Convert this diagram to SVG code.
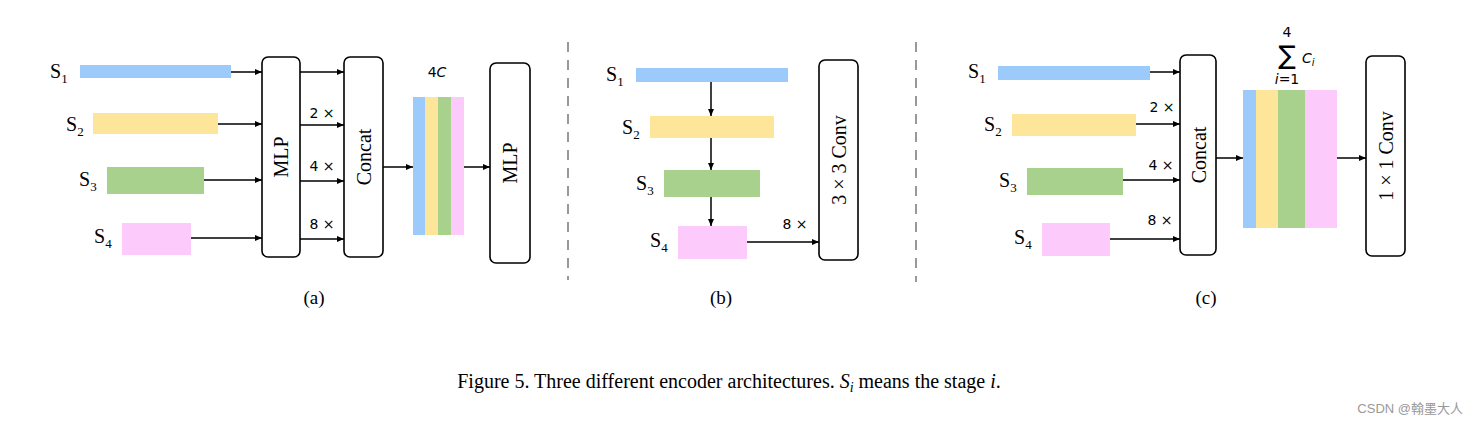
<svg xmlns="http://www.w3.org/2000/svg" width="1480" height="425" viewBox="0 0 1480 425">
<defs>
<marker id="ah" markerWidth="8" markerHeight="8" refX="7" refY="4" orient="auto" markerUnits="userSpaceOnUse"><path d="M0,1 L7,4 L0,7 z" fill="#000"/></marker>
</defs>
<style>
.s{font-family:"Liberation Serif",serif;font-size:20px;fill:#000}
.sub{font-size:13px}
.m{font-family:"DejaVu Sans","Liberation Sans",sans-serif;font-size:14px;fill:#000}
.box{fill:#fff;stroke:#000;stroke-width:1.6}
.c line{stroke:#000;stroke-width:1.5;marker-end:url(#ah)}
.b{fill:#9ccbfb}.y{fill:#fde699}.g{fill:#a9d18e}.p{fill:#fdcbfb}
.d{stroke:#777;stroke-width:1.5;stroke-dasharray:10,8}
.lab{font-family:"Liberation Serif",serif;font-size:19px;fill:#000;text-anchor:middle}
</style>
<rect width="1480" height="425" fill="#fff"/>
<!-- panel a -->
<g id="a-inputs">
<rect class="b" x="80" y="65" width="151" height="13"/>
<rect class="y" x="93" y="113" width="125" height="21"/>
<rect class="g" x="107" y="167" width="97" height="27"/>
<rect class="p" x="122" y="223" width="69" height="32"/>
<text class="s" x="50" y="78">S<tspan class="sub" dy="5">1</tspan></text>
<text class="s" x="66" y="131">S<tspan class="sub" dy="5">2</tspan></text>
<text class="s" x="79" y="186">S<tspan class="sub" dy="5">3</tspan></text>
<text class="s" x="94" y="243">S<tspan class="sub" dy="5">4</tspan></text>
</g>
<g id="a-mlp1"><rect class="box" x="262" y="57" width="38" height="200" rx="6"/><text class="s" transform="translate(288,157) rotate(-90)" text-anchor="middle">MLP</text></g>
<g id="a-concat"><rect class="box" x="344" y="57" width="39" height="200" rx="6"/><text class="s" transform="translate(371,157) rotate(-90)" text-anchor="middle">Concat</text></g>
<g id="a-stack">
<rect class="b" x="413" y="97" width="12" height="138"/><rect class="y" x="425" y="97" width="13" height="138"/><rect class="g" x="438" y="97" width="13" height="138"/><rect class="p" x="451" y="97" width="13" height="138"/>
<text class="m" x="437" y="77" text-anchor="middle">4<tspan font-style="italic">C</tspan></text>
</g>
<g id="a-mlp2"><rect class="box" x="490" y="63" width="40" height="200" rx="6"/><text class="s" transform="translate(517,163) rotate(-90)" text-anchor="middle">MLP</text></g>
<g class="m"><text x="322" y="118" text-anchor="middle">2 ×</text><text x="322" y="171" text-anchor="middle">4 ×</text><text x="322" y="229" text-anchor="middle">8 ×</text></g>
<text class="lab" x="314" y="304">(a)</text>
<!-- panel b -->
<line class="d" x1="568" y1="42" x2="568" y2="280"/>
<g id="b-inputs">
<rect class="b" x="636" y="68" width="152" height="14"/>
<rect class="y" x="650" y="116" width="124" height="22"/>
<rect class="g" x="664" y="170" width="96" height="27"/>
<rect class="p" x="678" y="226" width="69" height="33"/>
<text class="s" x="606" y="81">S<tspan class="sub" dy="5">1</tspan></text>
<text class="s" x="622" y="134">S<tspan class="sub" dy="5">2</tspan></text>
<text class="s" x="636" y="190">S<tspan class="sub" dy="5">3</tspan></text>
<text class="s" x="650" y="247">S<tspan class="sub" dy="5">4</tspan></text>
</g>
<g id="b-conv"><rect class="box" x="819" y="60" width="39" height="200" rx="6"/><text class="s" transform="translate(846,160) rotate(-90)" text-anchor="middle">3 × 3 Conv</text></g>
<text class="m" x="795" y="229" text-anchor="middle">8 ×</text>
<text class="lab" x="721" y="304">(b)</text>
<!-- panel c -->
<line class="d" x1="916" y1="42" x2="916" y2="282"/>
<g id="c-inputs">
<rect class="b" x="998" y="66" width="152" height="14"/>
<rect class="y" x="1012" y="114" width="124" height="22"/>
<rect class="g" x="1027" y="168" width="96" height="27"/>
<rect class="p" x="1042" y="223" width="68" height="33"/>
<text class="s" x="968" y="78">S<tspan class="sub" dy="5">1</tspan></text>
<text class="s" x="984" y="131">S<tspan class="sub" dy="5">2</tspan></text>
<text class="s" x="999" y="187">S<tspan class="sub" dy="5">3</tspan></text>
<text class="s" x="1014" y="244">S<tspan class="sub" dy="5">4</tspan></text>
</g>
<g id="c-concat"><rect class="box" x="1180" y="55" width="36" height="200" rx="6"/><text class="s" transform="translate(1206,155) rotate(-90)" text-anchor="middle">Concat</text></g>
<g id="c-stack">
<rect class="b" x="1243" y="90" width="13" height="138"/><rect class="y" x="1256" y="90" width="22" height="138"/><rect class="g" x="1278" y="90" width="27" height="138"/><rect class="p" x="1305" y="90" width="32" height="138"/>
<text class="m" x="1287" y="37" font-size="10" text-anchor="middle">4</text>
<text x="1287" y="64" font-family="DejaVu Sans,sans-serif" font-size="26" text-anchor="middle">∑</text>
<text class="m" x="1287" y="84" font-size="10" text-anchor="middle"><tspan font-style="italic">i</tspan>=1</text>
<text class="m" x="1302" y="63" font-style="italic">C<tspan font-size="10" dy="3">i</tspan></text>
</g>
<g id="c-conv"><rect class="box" x="1366" y="56" width="39" height="200" rx="6"/><text class="s" transform="translate(1393,156) rotate(-90)" text-anchor="middle">1 × 1 Conv</text></g>
<g class="m"><text x="1162" y="112" text-anchor="middle">2 ×</text><text x="1161" y="170" text-anchor="middle">4 ×</text><text x="1160" y="225" text-anchor="middle">8 ×</text></g>
<text class="lab" x="1206" y="304">(c)</text>
<g id="connectors" class="c">
<line x1="231" y1="72" x2="262" y2="72"/><line x1="218" y1="124" x2="262" y2="124"/><line x1="204" y1="180" x2="262" y2="180"/><line x1="191" y1="238" x2="262" y2="238"/>
<line x1="300" y1="72" x2="344" y2="72"/><line x1="300" y1="125" x2="344" y2="125"/><line x1="300" y1="181" x2="344" y2="181"/><line x1="300" y1="239" x2="344" y2="239"/>
<line x1="383" y1="167" x2="413" y2="167"/><line x1="464" y1="167" x2="490" y2="167"/>
<line x1="711" y1="82" x2="711" y2="116"/><line x1="711" y1="138" x2="711" y2="170"/><line x1="711" y1="197" x2="711" y2="226"/><line x1="747" y1="242" x2="819" y2="242"/>
<line x1="1150" y1="72" x2="1180" y2="72"/><line x1="1136" y1="124" x2="1180" y2="124"/><line x1="1123" y1="180" x2="1180" y2="180"/><line x1="1110" y1="239" x2="1180" y2="239"/>
<line x1="1216" y1="158" x2="1243" y2="158"/><line x1="1337" y1="158" x2="1366" y2="158"/>
</g>
<text x="729" y="388" font-family="Liberation Serif,serif" font-size="20" text-anchor="middle">Figure 5. Three different encoder architectures. <tspan font-style="italic">S</tspan><tspan font-style="italic" font-size="14" dy="4">i</tspan><tspan dy="-4"> means the stage </tspan><tspan font-style="italic">i</tspan>.</text>
<text x="1463" y="413" font-family="Liberation Sans,Noto Sans CJK SC,sans-serif" font-size="13" fill="#999" text-anchor="end">CSDN @翰墨大人</text>
</svg>
